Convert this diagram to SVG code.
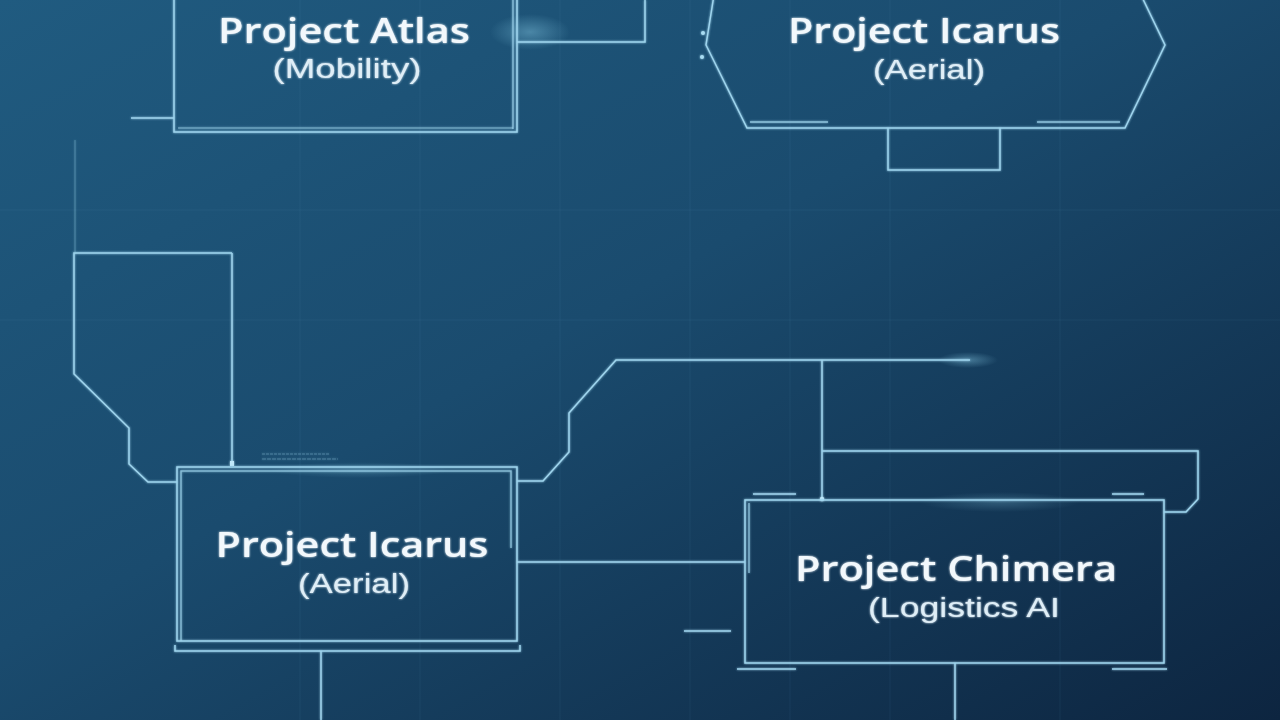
<svg xmlns="http://www.w3.org/2000/svg" width="1280" height="720" viewBox="0 0 1280 720">
<defs>
<linearGradient id="bg" x1="0" y1="0" x2="1" y2="1">
<stop offset="0" stop-color="#205b80"/>
<stop offset="0.45" stop-color="#1a4b6e"/>
<stop offset="1" stop-color="#0d2540"/>
</linearGradient>
<radialGradient id="glow">
<stop offset="0" stop-color="#9fe6ff" stop-opacity="0.35"/>
<stop offset="1" stop-color="#9fe6ff" stop-opacity="0"/>
</radialGradient>
<linearGradient id="fadeR" x1="0" y1="0" x2="1" y2="0">
<stop offset="0" stop-color="#a8dcf3" stop-opacity="1"/>
<stop offset="1" stop-color="#a8dcf3" stop-opacity="0"/>
</linearGradient>
<filter id="soft" x="-10%" y="-10%" width="120%" height="120%">
<feGaussianBlur stdDeviation="1.2" result="b"/>
<feMerge><feMergeNode in="b"/><feMergeNode in="SourceGraphic"/></feMerge>
</filter>
<style>
.ln{fill:none;stroke:#9fd5ee;stroke-width:1.5;stroke-linejoin:miter}
.fn{fill:none;stroke:#9fd5ee;stroke-width:1;opacity:0.35}
.gr{stroke:#6fb3d6;stroke-width:1;opacity:0.07}
.t1{font-family:"Open Sans","Liberation Sans",sans-serif;font-weight:600;font-size:34px;fill:#f2f8fc;text-anchor:middle}
.t2{font-family:"Liberation Sans","Open Sans",sans-serif;font-weight:400;font-size:27px;fill:#dfeef7;text-anchor:middle}
</style>
</defs>
<rect width="1280" height="720" fill="url(#bg)"/>
<g id="grid">
<line class="gr" x1="300" y1="0" x2="300" y2="720"/>
<line class="gr" x1="420" y1="0" x2="420" y2="720"/>
<line class="gr" x1="560" y1="0" x2="560" y2="720"/>
<line class="gr" x1="690" y1="0" x2="690" y2="720"/>
<line class="gr" x1="790" y1="0" x2="790" y2="720"/>
<line class="gr" x1="890" y1="0" x2="890" y2="720"/>
<line class="gr" x1="1060" y1="0" x2="1060" y2="720"/>
<line class="gr" x1="0" y1="210" x2="1280" y2="210"/>
<line class="gr" x1="0" y1="320" x2="1280" y2="320"/>
</g>
<g id="glows">
<ellipse cx="530" cy="32" rx="40" ry="18" fill="url(#glow)"/>
<ellipse cx="968" cy="360" rx="30" ry="8" fill="url(#glow)"/>
<ellipse cx="360" cy="470" rx="90" ry="8" fill="url(#glow)" opacity="0.6"/>
<ellipse cx="1000" cy="502" rx="80" ry="10" fill="url(#glow)" opacity="0.6"/>
</g>
<g id="connectors" filter="url(#soft)">
<path class="ln" d="M517 42 H645 V0"/>
<line class="ln" x1="131" y1="118" x2="174" y2="118"/>
<line class="fn" x1="75" y1="140" x2="75" y2="252"/>
<path class="ln" d="M232 253 H74 V374 L129 428 V464 L148 482 H177"/>
<line x1="232" y1="253" x2="330" y2="253" stroke="url(#fadeR)" stroke-width="1.8"/>
<line class="ln" x1="232" y1="253" x2="232" y2="466"/>
<rect x="230" y="461" width="4" height="5" fill="#bfe8fa"/>
<path class="ln" d="M517 481 H543 L569 452 V413 L616 360 H970"/>
<line class="ln" x1="822" y1="360" x2="822" y2="500"/>
<circle cx="822" cy="499" r="2.2" fill="#bfe8fa"/>
<path class="ln" d="M822 451 H1198 V499 L1186 512 H1164"/>
<line class="ln" x1="517" y1="562" x2="745" y2="562"/>
<line class="ln" x1="321" y1="651" x2="321" y2="720"/>
<line class="ln" x1="955" y1="663" x2="955" y2="720"/>
<path class="ln" d="M888 128 V170 H1000 V128"/>
<line class="ln" x1="684" y1="631" x2="731" y2="631"/>
<line class="fn" x1="262" y1="454" x2="330" y2="454" stroke-dasharray="3 1" opacity="0.7"/>
<line class="fn" x1="262" y1="459" x2="338" y2="459" stroke-dasharray="4 1" opacity="0.6"/>
</g>
<g id="atlas" filter="url(#soft)">
<path class="ln" d="M174 -5 V132 H517 V-5"/>
<line class="ln" x1="513" y1="-5" x2="513" y2="129" opacity="0.7"/>
<line class="ln" x1="178" y1="128" x2="513" y2="128" opacity="0.5"/>
<text class="t1" x="344" y="43" textLength="252" lengthAdjust="spacingAndGlyphs">Project Atlas</text>
<text class="t2" x="347" y="78" textLength="149" lengthAdjust="spacingAndGlyphs">(Mobility)</text>
</g>
<g id="icarus-top" filter="url(#soft)">
<path class="ln" d="M714 -5 L706 45 L747 128 H1125 L1165 45 L1141 -5"/>
<line class="ln" x1="750" y1="122" x2="828" y2="122" opacity="0.8"/>
<line class="ln" x1="1037" y1="122" x2="1120" y2="122" opacity="0.8"/>
<circle cx="703" cy="33" r="2" fill="#a8dcf3"/>
<circle cx="702" cy="57" r="2" fill="#a8dcf3"/>
<text class="t1" x="924" y="43" textLength="272" lengthAdjust="spacingAndGlyphs">Project Icarus</text>
<text class="t2" x="929" y="79" textLength="112" lengthAdjust="spacingAndGlyphs">(Aerial)</text>
</g>
<g id="icarus-bottom" filter="url(#soft)">
<rect class="ln" x="177" y="467" width="340" height="174"/>
<path class="ln" d="M181 641 V471 H511 V548" opacity="0.7"/>
<path class="ln" d="M175 645 V651 H520 V645"/>
<text class="t1" x="352" y="557" textLength="273" lengthAdjust="spacingAndGlyphs">Project Icarus</text>
<text class="t2" x="354" y="593" textLength="112" lengthAdjust="spacingAndGlyphs">(Aerial)</text>
</g>
<g id="chimera" filter="url(#soft)">
<rect class="ln" x="745" y="500" width="419" height="163"/>
<line class="ln" x1="749" y1="503" x2="749" y2="573" opacity="0.7"/>
<line class="ln" x1="753" y1="494" x2="796" y2="494"/>
<line class="ln" x1="1112" y1="494" x2="1144" y2="494"/>
<line class="ln" x1="737" y1="669" x2="796" y2="669"/>
<line class="ln" x1="1112" y1="669" x2="1167" y2="669"/>
<text class="t1" x="956" y="581" textLength="322" lengthAdjust="spacingAndGlyphs">Project Chimera</text>
<text class="t2" x="964" y="617" textLength="192" lengthAdjust="spacingAndGlyphs">(Logistics AI</text>
</g>
</svg>
